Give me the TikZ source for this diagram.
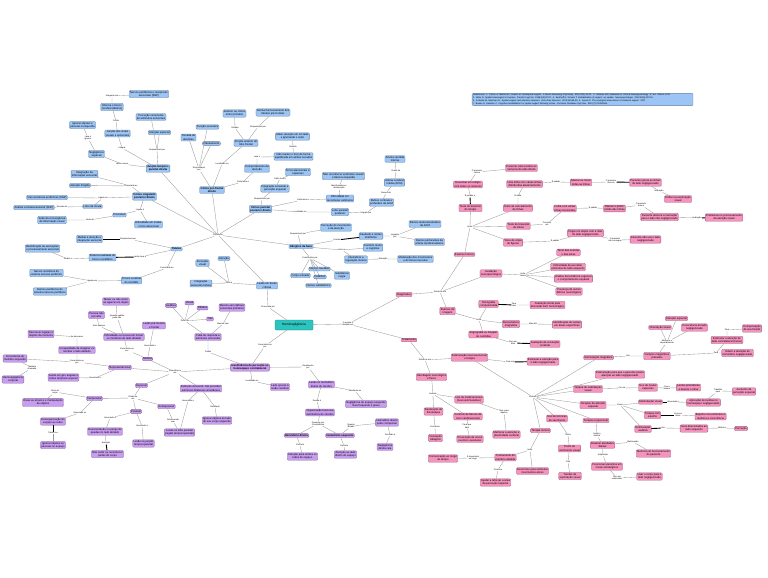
\documentclass[tikz,border=0pt]{standalone}
\usepackage{fontspec}
\setmainfont{Liberation Sans}
\usepackage{xcolor}
\definecolor{anat}{HTML}{9CC4F4}
\definecolor{diag}{HTML}{F592BD}
\definecolor{tipo}{HTML}{C89DF0}
\definecolor{core}{HTML}{2CC4BF}
\usepackage{tikz}

\begin{document}
\begin{tikzpicture}[x=1pt, y=-1pt,
  box/.style={draw=#1!65!black, fill=#1, rounded corners=1pt, line width=0.3pt,
    inner sep=0.9pt, align=center, font=\fontsize{2.7}{3.1}\selectfont},
  key/.style={box=#1, font=\fontsize{2.7}{3.1}\selectfont\bfseries},
  lbl/.style={fill=white, inner sep=0.3pt, align=center, font=\fontsize{2.1}{2.4}\selectfont},
  link/.style={draw=black!40, line width=0.35pt},
  arr/.style={draw=black, line width=0.9pt}
]
  \useasboundingbox (0,0) rectangle (768,578);

  % Referencias
  \node[box=anat, text width=219pt, align=left, font=\fontsize{2.2}{2.8}\selectfont] (refs) at (582.5,99.5)
    {Referências: 1. Parton A, Malhotra P, Husain M. Hemispatial neglect. J Neurol Neurosurg Psychiatry. 2004;75(1):13-21. 2. Heilman KM, Valenstein E. Clinical Neuropsychology. 5.ª ed. Oxford; 2011.\\
     3. Vallar G. Spatial hemineglect in humans. Trends Cogn Sci. 1998;2(3):87-97. 4. Kerkhoff G, Schenk T. Rehabilitation of neglect: an update. Neuropsychologia. 2012;50(6):1072-9.\\
     5. Corbetta M, Shulman GL. Spatial neglect and attention networks. Annu Rev Neurosci. 2011;34:569-99. 6. Azouvi P. The ecological assessment of unilateral neglect. 2017.\\
     7. Bowen A, Hazelton C. Cognitive rehabilitation for spatial neglect following stroke. Cochrane Database Syst Rev. 2013;(7):CD003586.};

  % Centro
  \node[box=core, minimum width=38pt, minimum height=10pt, font=\fontsize{3.2}{3.6}\selectfont] (hemi) at (294,325) {Heminegligência};
  \node[lbl] (lcausa) at (268,307) {Provocada por};
  \node[box=anat] (lesao) at (267,285.5) {Lesão em áreas\\críticas};
  \node[lbl] (lenv) at (218,235) {Envolvem};

  % Areas cerebrais
  \node[key=anat] (jtp) at (158,168.5) {Junção temporo-\\parietal direita};
  \node[key=anat] (cpf) at (212,190) {Córtex pré-frontal\\direito};
  \node[key=anat] (cpp) at (260.5,209) {Córtex parietal\\posterior direito};
  \node[key=anat] (gbase) at (301,246.5) {Gânglios da base};
  \node[key=anat] (talamo) at (176.5,249) {Tálamo};
  \node[key=anat] (ccp) at (144.5,196.5) {Córtex cingulado\\posterior direito};

  % Juncao temporo-parietal
  \node[lbl] (ljtp1) at (157,150) {Responsável por};
  \node[box=anat] (atesp) at (159.5,132.5) {Atenção espacial};
  \node[box=anat] (percons) at (151,117) {Perceção consciente\\de estímulos sensoriais};
  \node[lbl] (ljtp2) at (122,148) {Integra};
  \node[box=anat] (juncao) at (117.5,133.5) {Junção dos sinais\\visuais e sensoriais};
  \node[lbl] (lfusao) at (116,121) {Fusão};
  \node[box=anat] (informa) at (112,107) {Informa o tronco\\cerebral (tálamo)};
  \node[lbl] (linteg) at (112,96) {Integrado em};
  \node[box=anat] (nervos) at (149,94) {Nervos periféricos e receptores\\sensoriais (SNP)};
  \node[lbl] (ljtp3) at (122,164) {Lesão causa};
  \node[box=anat] (negesp) at (96.5,154) {Negligência\\espacial};
  \node[lbl] (lneg) at (88,138) {Leva a\\ignorar};
  \node[box=anat] (ignorar) at (82.5,125) {Ignorar objetos e\\pessoas à esquerda};

  % Cingulado
  \node[lbl] (lccp1) at (131,186) {Conectado ao};
  \node[box=anat] (infsens) at (84.5,174) {Integração da\\informação sensorial};
  \node[box=anat] (atdir) at (80,185.5) {Atenção dirigida};
  \node[lbl] (lccp2) at (103,198) {Ligado ao};
  \node[box=anat] (insula) at (92.5,206.5) {Lobo da ínsula};
  \node[box=anat] (vias) at (47,197.5) {Vias sensitivas periféricas (SNP)};
  \node[lbl] (lins) at (62,207) {Recebe da};
  \node[box=anat] (analise) at (34,207.5) {Análise somatossensorial (SNP)};
  \node[lbl] (lccp3) at (140,210) {Ligado à};
  \node[box=anat] (precuneo) at (119.5,215) {Precúneo};
  \node[lbl] (lprec) at (90,220) {Sede da};
  \node[box=anat] (sede) at (52,220) {Sede da convergência\\de informação visual};
  \node[box=anat] (dificfoco) at (148.5,224.5) {Dificuldade em mudar\\o foco atencional};

  % Pre-frontal
  \node[lbl] (lcpf1) at (199,169) {Responsável\\por};
  \node[box=anat] (decisao) at (188.5,137.5) {Tomada de\\decisões};
  \node[box=anat] (funcexec) at (207.5,127) {Função executiva};
  \node[box=anat] (planea) at (211.5,143.5) {Planeamento};
  \node[lbl] (lcpf2) at (222,164) {Localizado na};
  \node[box=anat] (porcao) at (246,143) {Porção anterior do\\lobo frontal};
  \node[lbl] (lporc1) at (235,128) {Situada};
  \node[box=anat] (anterior) at (234.5,113.5) {Anterior ao córtex\\motor primário};
  \node[lbl] (lporc2) at (258,127) {Responsável por};
  \node[box=anat] (normal) at (273,112.5) {Normal funcionamento dos\\lóbulos pré-frontais};
  \node[lbl] (lcpf3) at (243,182) {Pode levar a};
  \node[box=anat] (comport) at (257,168.5) {Comportamento da\\atenção};
  \node[lbl] (lcomp) at (257,157) {Leva a};
  \node[box=anat] (naomant) at (293.5,156.5) {Não manter o foco de forma\\equilibrada em ambos os lados};
  \node[lbl] (lnao) at (293,147) {Resulta};
  \node[box=anat] (maior) at (292.5,136.5) {Maior atenção em um lado\\e ignorando o outro};

  % Parietal posterior
  \node[lbl] (lcpp1) at (262,199) {Responsável por};
  \node[box=anat] (intsens) at (275,188.5) {Integração sensorial e\\perceção espacial};
  \node[lbl] (lint) at (280,179) {Falha leva a};
  \node[box=anat] (erros) at (298,172) {Erros atencionais e\\espaciais};
  \node[lbl] (lcpp2) at (303,200) {Pode levar a};
  \node[box=anat] (dificrec) at (340,198.5) {Dificuldade em\\reconhecer estímulos};
  \node[lbl] (ldif) at (339,187) {Manifestada por\\desatenção};
  \node[box=anat] (naorec) at (343.5,176) {Não reconhecer estímulos visuais\\e táteis à esquerda};
  \node[lbl] (lcpp3) at (300,212) {Localizado no};
  \node[box=anat] (lobopar) at (340,212) {Lobo parietal\\posterior};
  \node[lbl] (llp) at (366,213) {Irrigado por};
  \node[box=anat] (ramos) at (381.5,202.5) {Ramos corticais e\\profundos da ACM};
  \node[lbl] (lram) at (386,193) {Ramos da};
  \node[box=anat] (acm) at (394.5,182.5) {Artéria cerebral\\média (ACM)};
  \node[lbl] (lacm) at (396,171) {Ramo da};
  \node[box=anat] (carot) at (395,159) {Artéria carótida\\interna};

  % Ganglios da base
  \node[lbl] (lgb1) at (298,234) {Responsável por};
  \node[box=anat] (percmov) at (336,227.5) {Perceção do movimento\\e da atenção};
  \node[lbl] (lgb2) at (337,240) {Contém};
  \node[box=anat] (caudado) at (371,236) {Caudado e núcleo\\lentiforme};
  \node[lbl] (lirr) at (395,236) {Irrigados\\por};
  \node[box=anat] (lentic) at (425,224) {Ramos lenticuloestriados\\da ACM};
  \node[box=anat] (perfur) at (429.5,242) {Ramos perfurantes da\\artéria cerebral anterior};
  \node[lbl] (lgb4) at (342,250) {Atua no};
  \node[box=anat] (motor) at (373,247.5) {Controlo motor\\e cognitivo};
  \node[box=anat] (intens) at (356,259.5) {Intensificar a\\regulação motora};
  \node[lbl] (lint2) at (383,259) {Alteração};
  \node[box=anat] (modul) at (415.5,259) {Modulação dos movimentos\\e do tónus muscular};
  \node[lbl] (lgb5) at (310,258) {Constituídos por};
  \node[box=anat] (ncaud) at (319.5,269) {Núcleo caudado};
  \node[box=anat] (cestr) at (300.5,275.5) {Corpo estriado};
  \node[box=anat] (putamen) at (320,277) {Putâmen};
  \node[box=anat] (snegra) at (342,275.5) {Substância\\negra};
  \node[box=anat] (nsubt) at (318.5,285.5) {Núcleo subtalâmico};

  % Talamo
  \node[lbl] (ltal1) at (128,239) {Responsável por};
  \node[box=anat] (mediar) at (89.5,239) {Mediar a atenção e\\integração sensorial};
  \node[lbl] (ltal2) at (140,257) {Lesão leva a};
  \node[box=anat] (disfunc) at (102.5,257.5) {Disfuncionalidade do\\tronco encefálico};
  \node[lbl] (ldis) at (68,259) {Reduz a};
  \node[box=anat] (identif) at (42.5,248.5) {Identificação de sensações\\e processamento sensorial};
  \node[lbl] (ltal3) at (167,268) {Conectado ao};
  \node[box=anat] (tronco) at (131.5,280.5) {Tronco cerebral\\do encéfalo};
  \node[lbl] (ltron) at (92,281) {Ligado aos};
  \node[box=anat] (nsens) at (46.5,273) {Nervos sensitivos do\\sistema nervoso periférico};
  \node[box=anat] (nperif) at (50,291.5) {Ramos periféricos do\\sistema nervoso periférico};

  % Lesao: funcoes
  \node[lbl] (lles) at (229,283) {Afeta a};
  \node[box=anat] (percvis) at (202.5,263) {Perceção\\visual};
  \node[box=anat] (atencao) at (224,258.5) {Atenção};
  \node[box=anat] (intsm) at (201,283.5) {Integração\\sensorial motora};

  % Diagnostico
  \node[lbl] (lexame) at (348,324) {O exame é\\dividido em};
  \node[box=diag] (diag) at (404,294.5) {Diagnóstico};
  \node[box=diag] (trat) at (409,340) {Tratamento};
  \node[lbl] (ldiag) at (440,292) {Divide-se em};
  \node[box=diag] (exfis) at (464.5,254.5) {Exames Físicos};
  \node[box=diag] (avneuro) at (491,273.5) {Avaliação\\neuropsicológica};
  \node[box=diag] (eximg) at (447.5,311) {Exames de\\imagem};

  % Exames fisicos
  \node[lbl] (lexf) at (470,227) {Inclui};
  \node[box=diag] (relogio) at (470.5,208) {Teste do desenho\\do relógio};
  \node[box=diag] (cancel) at (518,208) {Teste de cancelamento\\de linhas};
  \node[box=diag] (bissec) at (518.5,226) {Teste de bisseção\\de linhas};
  \node[box=diag] (copia) at (513,242.5) {Teste de cópia\\de figuras};
  \node[lbl] (lrel) at (470,196) {É pedido a};
  \node[box=diag] (desenhar) at (468,184.5) {Desenhar um relógio\\com todos os números};
  \node[lbl] (ldes) at (477,172) {O paciente\\coloca};
  \node[box=diag] (coloca) at (521.5,168) {Paciente coloca todos os\\números do lado direito};
  \node[lbl] (lcan) at (518,196) {É dada};
  \node[box=diag] (folha) at (524.5,184) {Uma folha com várias linhas\\distribuídas aleatoriamente};
  \node[lbl] (lfol) at (556,182) {É pedido};
  \node[box=diag] (marcar) at (581,182.5) {Marcar ou riscar\\todas as linhas};
  \node[lbl] (lmar) at (611,182) {O paciente\\risca só};
  \node[box=diag] (ignora) at (645.5,182.5) {Paciente ignora as linhas\\do lado negligenciado};
  \node[lbl] (lign) at (659,191) {Indicação};
  \node[box=diag] (defice) at (678,199) {Défice na exploração\\visual};
  \node[lbl] (lbis) at (547,224) {Consiste\\em};
  \node[box=diag] (linhas) at (565,208.5) {Folha com várias\\linhas horizontais};
  \node[lbl] (llin) at (593,208) {É pedido};
  \node[box=diag] (ptmedio) at (614.5,208.5) {Marcar o ponto\\médio das linhas};
  \node[lbl] (lpt) at (641,205) {O paciente\\marca};
  \node[box=diag] (desloca) at (659.5,217) {Paciente desloca a marcação\\para o lado não negligenciado};
  \node[lbl] (ldesl) at (697,218) {Indicação};
  \node[box=diag] (probl) at (724,217.5) {Problemas no processamento\\da atenção visual};
  \node[lbl] (lcop) at (555,241) {É pedido};
  \node[box=diag] (pegar) at (585.5,233) {Pegar um objeto com a mão\\do lado negligenciado};
  \node[lbl] (lpeg) at (615,240) {O paciente\\não consegue};
  \node[box=diag] (naousa) at (645.5,239.5) {Paciente não usa o lado\\negligenciado};

  % Avaliacao neuropsicologica
  \node[lbl] (lneuro) at (523,275) {Inclui\\testes};
  \node[box=diag] (tn1) at (568.5,252.5) {Teste das estrelas\\e das letras};
  \node[box=diag] (tn2) at (568,267) {Dificuldade de perceber\\estímulos do lado esquerdo};
  \node[box=diag] (tn3) at (573.5,278.5) {Análise da tendência a ignorar\\o comportamento espacial};
  \node[box=diag] (tn4) at (569,291.5) {Presença de outros\\défices neurológicos};

  % Exames de imagem
  \node[lbl] (limg) at (479,320) {Inclui};
  \node[box=diag] (tc) at (488.5,304) {Tomografia\\computorizada};
  \node[lbl] (ltc) at (514,305) {Para\\fazer};
  \node[box=diag] (avinic) at (547.5,305) {Avaliação inicial para\\descartar AVC hemorrágico};
  \node[box=diag] (rm) at (511,324) {Ressonância\\magnética};
  \node[lbl] (lrm) at (533,324) {Mais útil};
  \node[box=diag] (ident) at (567,324.5) {Identificação de lesões\\em áreas específicas};
  \node[box=diag] (angio) at (483.5,334.5) {Angiografia ou Doppler\\de carótidas};
  \node[lbl] (lang) at (513,343) {Para ser\\feita};
  \node[box=diag] (avcirc) at (545,344) {Avaliação da circulação\\cerebral};

  % Tratamento
  \node[lbl] (ltrat) at (425,360) {Divide-se em};
  \node[box=diag] (estneuro) at (469.5,357.5) {Estimulação neurossensorial\\e terapia};
  \node[box=diag] (aborda) at (431.5,377) {Abordagem neurológica\\e física};
  \node[lbl] (lest) at (510,362) {Com uso};
  \node[box=diag] (estatenc) at (543,361.5) {Estimular a atenção para\\o lado negligenciado};
  \node[lbl] (lhub) at (533,397) {Incluem};

  % Estimulacao magnetica
  \node[box=diag] (estmag) at (598.5,357.5) {Estimulação magnética};
  \node[lbl] (lmag) at (628,356) {Usa};
  \node[box=diag] (campos) at (657,356) {Campos magnéticos\\pulsados};
  \node[lbl] (lcamp) at (667,342) {Melhorar a\\capacidade de};
  \node[box=diag] (orient) at (660,327.5) {Orientação visual};
  \node[box=diag] (atesp2) at (676.5,318.5) {Atenção espacial};
  \node[box=diag] (consc) at (694.5,327.5) {Consciência do lado\\negligenciado};
  \node[lbl] (lind) at (716,353) {Para};
  \node[box=diag] (induzir) at (737.5,353) {Induzir a ativação do\\hemisfério negligenciado};
  \node[box=diag] (estim2) at (727,340) {Estimular a atenção do\\lado contralateral (treino)};
  \node[lbl] (lest2) at (727,330) {Para};
  \node[box=diag] (compens) at (752,328.5) {Compensação\\de sua função};

  % Terapias
  \node[box=diag] (estpac) at (620,374.5) {Estimulação para que o paciente preste\\atenção ao lado negligenciado};
  \node[box=diag] (terviz) at (588,389) {Terapia de reabilitação\\visual};
  \node[lbl] (lviz) at (622,388) {Por via};
  \node[box=diag] (oculos) at (648,387.5) {Uso de óculos\\especiais};
  \node[lbl] (locu) at (667,388) {Com o\\prisma};
  \node[box=diag] (lente) at (688.5,387.5) {Lentes prismáticas\\a desviar o olhar};
  \node[box=diag] (teratenc) at (593,405) {Terapias de atenção\\espacial};
  \node[lbl] (latenc) at (620,405) {Como};
  \node[box=diag] (estvis) at (650.5,402) {Estimulação visual};
  \node[lbl] (lvis) at (673,402) {Associada a};
  \node[box=diag] (aplic) at (703.5,402.5) {Aplicação de tarefas no\\hemiespaço negligenciado};
  \node[lbl] (lapl) at (718,391) {Trabalha\\para};
  \node[box=diag] (aumento) at (744,391.5) {Aumento da\\perceção espacial};
  \node[box=diag] (espelho) at (652.5,415) {Terapia com\\espelho};
  \node[lbl] (lesp) at (678,415) {Procura\\ativar};
  \node[box=diag] (espest) at (710.5,416.5) {Espelho cria estímulos e\\melhora a consciência};
  \node[box=diag] (estaud) at (643,429) {Estimulação\\auditiva};
  \node[lbl] (laud) at (663,428) {Usa};
  \node[box=diag] (sons) at (694,428.5) {Sons direcionados ao\\lado esquerdo};
  \node[lbl] (lsons) at (722,428) {Melhora};
  \node[box=diag] (percecao) at (741,428.5) {Perceção};
  \node[box=diag] (terocup) at (596,420.5) {Terapia ocupacional};
  \node[lbl] (locup) at (597,435) {Ajuda a\\realizar};
  \node[box=diag] (ativ) at (602.5,445) {Realizar atividades\\diárias};
  \node[lbl] (lativ) at (633,442) {Melhorando};
  \node[box=diag] (melhoria) at (653.5,453.5) {Melhoria do funcionamento\\do paciente};
  \node[lbl] (ladapt) at (603,455) {Adaptação};
  \node[box=diag] (posic) at (607,466.5) {Posicionar utensílios em\\locais estratégicos};
  \node[lbl] (lpos) at (617,478) {Para ser\\estimulado};
  \node[box=diag] (usar) at (649.5,476.5) {Usar o corpo para o\\lado negligenciado};
  \node[box=diag] (pistas) at (557,418.5) {Uso de técnicas\\de varrimento};
  \node[lbl] (lpis) at (568,435) {Treino};
  \node[box=diag] (treinoviz) at (569.5,448.5) {Treino de\\varrimento visual};
  \node[lbl] (ltv) at (568,462) {Com};
  \node[box=diag] (tarefas) at (570,476) {Tarefas de\\exploração visual};
  \node[box=diag] (termot) at (540.5,430.5) {Terapia motora};
  \node[lbl] (lmot) at (530,450) {Inclui};
  \node[box=diag] (exerc) at (532.5,471) {Exercícios para estimular\\movimentos ativos};
  \node[box=diag] (treinom) at (505.5,457.5) {Treinamento do\\membro afetado};
  \node[lbl] (ltm) at (473,458) {É importante\\ao longo};
  \node[box=diag] (comunic) at (443,458.5) {Comunicação ao longo\\do tempo};
  \node[lbl] (ltm2) at (498,470) {Promove};
  \node[box=diag] (ajudar) at (495.5,482.5) {Ajudar a reforçar a área\\da perceção espacial};

  % Abordagem neurologica
  \node[lbl] (lab) at (433,394) {Incluem};
  \node[box=diag] (fisio) at (433.5,411.5) {Realização de\\fisioterapia};
  \node[lbl] (lfis) at (435,427) {Com base};
  \node[box=diag] (cessar) at (435.5,438) {Cessação\\tabágica};
  \node[box=diag] (medic) at (469,399.5) {Uso de medicamentos\\(neuroestimulantes)};
  \node[lbl] (lmed) at (504,412) {Têm como\\objetivo};
  \node[box=diag] (plast) at (506.5,434.5) {Melhorar a atenção e\\plasticidade cerebral};
  \node[box=diag] (contr) at (468,416.5) {Controlo de fatores de\\risco cardiovascular};
  \node[lbl] (lcon) at (467,426.5) {Para que\\haja};
  \node[box=diag] (prev) at (470,439) {Prevenção de novos\\eventos vasculares};

  % Caracteristicas
  \node[lbl] (lcarac) at (265,346) {Caracteriza-se\\por};
  \node[key=tipo] (insuf) at (250,367.5) {Insuficiência de perceção no\\hemiespaço contralateral};
  \node[lbl] (lins1) at (252,381) {Localizado no};
  \node[box=tipo] (ladoop) at (280,387) {Lado oposto à\\lesão cerebral};
  \node[lbl] (lins2) at (308,367) {Geralmente\\por};
  \node[box=tipo] (lesdir) at (321.5,384.5) {Lesão no hemisfério\\direito do cérebro};
  \node[lbl] (lld1) at (317,401) {Devido à};
  \node[box=tipo] (organ) at (320,412.5) {Organização funcional\\assimétrica do cérebro};
  \node[lbl] (lorg) at (318,423.5) {Presente nos\\2 hemisférios};
  \node[key=tipo] (hdir) at (296.5,435.5) {Hemisfério direito};
  \node[key=tipo] (hesq) at (340,435.5) {Hemisfério esquerdo};
  \node[lbl] (lhd) at (300,445) {Controla};
  \node[box=tipo] (ambos) at (302.5,456.5) {Atenção para ambos os\\lados do espaço};
  \node[lbl] (lhe) at (344,446) {Controla};
  \node[box=tipo] (direito) at (345.5,454.5) {Atenção ao lado\\direito do espaço};
  \node[lbl] (lld2) at (355,391) {Manifesta-se};
  \node[box=tipo] (negl) at (366,404) {Negligência do espaço esquerdo\\mais frequente e grave};
  \node[lbl] (lhe2) at (351,426) {Quando\\afetado};
  \node[box=tipo] (compensa) at (387,422.5) {Hemisfério direito\\pode compensar};
  \node[lbl] (lcomp2) at (390,435) {Tornando a};
  \node[box=tipo] (negdir) at (385,447) {Negligência\\direita rara};

  % Tipos
  \node[lbl] (ltipos) at (175,372) {Classifica-se\\em};
  \node[box=tipo] (motora) at (147.5,359) {Motora};
  \node[box=tipo] (repres) at (120,367.5) {Representacional};
  \node[box=tipo] (espacial) at (141.5,385.5) {Espacial};
  \node[box=tipo] (sensor) at (201,388.5) {Extinção sensorial: não perceber\\estímulos bilaterais simultâneos};
  \node[lbl] (lsen1) at (215,407) {Resultado};
  \node[box=tipo] (ignesq) at (217,420.5) {Ignorar objetos do lado\\do seu corpo esquerdo};
  \node[lbl] (lsen2) at (188,401) {Associada a};
  \node[box=tipo] (funcao) at (179.5,432.5) {Lesão no lobo parietal\\(região temporoparietal)};

  % Espacial
  \node[lbl] (lespc) at (133,398) {Divide-se\\em};
  \node[box=tipo] (perip) at (94.5,398.5) {Peripessoal};
  \node[box=tipo] (extrap) at (166.5,406.5) {Extrapessoal};
  \node[box=tipo] (pessoal) at (136,411.5) {Pessoal};
  \node[lbl] (lext) at (173,421) {Relacionada\\com};
  \node[lbl] (lper1) at (55,392) {Perto do\\corpo};
  \node[box=tipo] (areas) at (43,402.5) {Áreas ao alcance e manipulação\\de objetos};
  \node[lbl] (lper2) at (80,413) {Associado ao};
  \node[box=tipo] (desorg) at (53,421.5) {Desorganização do\\espaço ao redor};
  \node[lbl] (ldes2) at (53,433) {Traduz-se};
  \node[box=tipo] (ignesp) at (53,445) {Ignorar objetos ou\\pessoas no espaço};
  \node[lbl] (lpes1) at (110,418) {Associado a};
  \node[box=tipo] (desor) at (105,431.5) {Desorientação ou perigo de\\quedas no lado afetado};
  \node[lbl] (lpes2) at (106,443) {Exemplo};
  \node[box=tipo] (naosent) at (107.5,454) {Não sentir ou reconhecer\\partes do corpo};
  \node[lbl] (lpes3) at (142,426) {Associado a};
  \node[box=tipo] (lesjtp) at (143.5,443.5) {Lesão na junção\\temporoparietal};

  % Representacional
  \node[lbl] (lrep1) at (77,362) {Caracteriza-se\\por};
  \node[box=tipo] (incap) at (77,350) {Incapacidade de imaginar ou\\lembrar o lado afetado};
  \node[lbl] (linc) at (77,337) {Ao descrever};
  \node[box=tipo] (descr) at (41,334) {Descrever lugares e\\objetos da memória};
  \node[lbl] (lrep2) at (95,378) {Associado a};
  \node[box=tipo] (lesgiro) at (63.5,377.5) {Lesão em giro angular e\\córtex temporal superior};
  \node[box=tipo] (consc2) at (15,358.5) {Consciência do\\membro esquerdo};
  \node[lbl] (lcons) at (32,368) {Também\\chamada};
  \node[box=tipo] (somato) at (13,379.5) {Heminegligência\\corporal};

  % Motora
  \node[lbl] (lmot1) at (127,350) {Caracteriza-se\\por};
  \node[box=tipo] (recusa) at (124,337) {Dificuldade ou recusa em mover\\os membros do lado afetado};
  \node[lbl] (lmot2) at (150,346) {Associada a};
  \node[box=tipo] (lesprem) at (154,325.5) {Lesão pré-motora\\e frontal};
  \node[lbl] (lrec1) at (117,317) {Quando pedido\\pode não};
  \node[box=tipo] (mexer) at (116,301.5) {Mexer ou não sentir\\ao agarrar um objeto};
  \node[lbl] (lrec2) at (99,326) {Nem sempre};
  \node[box=tipo] (pessoa) at (96.5,315) {Pessoa não\\percebe};

  % Sensorial
  \node[box=tipo] (falta) at (208,337) {Falta de resposta a\\estímulos sensoriais};
  \node[lbl] (lfal1) at (185,321) {Pode ser};
  \node[box=tipo] (audit) at (171,305.5) {Auditiva};
  \node[box=tipo] (visual) at (189.5,303) {Visual};
  \node[box=tipo] (olfat) at (202.5,308) {Olfativa};
  \node[box=tipo] (tatil) at (210,319) {Tátil};
  \node[lbl] (lfal2) at (223,324) {Mesmo sem};
  \node[box=tipo] (mesmo) at (232,307.5) {Mesmo sem défices\\sensoriais primários};
  \node[lbl] (lfal3) at (208,352) {Traduz};

  % Ligacoes: centro e areas
  \draw[link] (hemi) -- (lcausa) -- (lesao) -- (lenv);
  \foreach \n in {jtp,cpf,cpp,gbase,talamo,ccp} \draw[link] (lenv) -- (\n);
  \draw[link] (jtp) -- (ljtp1) (ljtp1) -- (atesp) (ljtp1) -- (percons);
  \draw[link] (jtp) -- (ljtp2) -- (juncao) -- (lfusao) -- (informa) -- (linteg) -- (nervos);
  \draw[link] (jtp) -- (ljtp3) -- (negesp) -- (lneg) -- (ignorar);
  \draw[link] (ccp) -- (lccp1) (lccp1) -- (infsens) (lccp1) -- (atdir);
  \draw[link] (ccp) -- (lccp2) -- (insula) -- (lins) -- (analise) (lccp2) -- (vias);
  \draw[link] (ccp) -- (lccp3) -- (precuneo) -- (lprec) -- (sede) (lccp3) -- (dificfoco);
  \draw[link] (cpf) -- (lcpf1) (lcpf1) -- (decisao) (lcpf1) -- (funcexec) (lcpf1) -- (planea);
  \draw[link] (cpf) -- (lcpf2) -- (porcao) -- (lporc1) -- (anterior) (porcao) -- (lporc2) -- (normal);
  \draw[link] (cpf) -- (lcpf3) -- (comport) -- (lcomp) -- (naomant) -- (lnao) -- (maior);
  \draw[link] (cpp) -- (lcpp1) -- (intsens) -- (lint) -- (erros);
  \draw[link] (cpp) -- (lcpp2) -- (dificrec) -- (ldif) -- (naorec);
  \draw[link] (cpp) -- (lcpp3) -- (lobopar) -- (llp) -- (ramos) -- (lram) -- (acm) -- (lacm) -- (carot);
  \draw[link] (gbase) -- (lgb1) -- (percmov);
  \draw[link] (gbase) -- (lgb2) (caudado) -- (lirr) (lirr) -- (lentic) (lirr) -- (perfur);
  \draw[arr] (lgb2) -- (caudado);
  \draw[link] (gbase) -- (lgb4) (lgb4) -- (motor) (lgb4) -- (intens) -- (lint2) -- (modul);
  \draw[link] (gbase) -- (lgb5);
  \foreach \n in {ncaud,cestr,putamen,snegra,nsubt} \draw[link] (lgb5) -- (\n);
  \draw[link] (talamo) -- (ltal1) (talamo) -- (ltal2) (disfunc) -- (ldis) -- (identif);
  \draw[arr] (ltal1) -- (mediar);
  \draw[arr] (ltal2) -- (disfunc);
  \draw[link] (talamo) -- (ltal3) -- (tronco) -- (ltron) (ltron) -- (nsens) (ltron) -- (nperif);
  \draw[link] (lesao) -- (lles) (lles) -- (percvis) (lles) -- (atencao) (lles) -- (intsm);

  % Ligacoes: diagnostico
  \draw[link] (hemi) -- (lexame) (lexame) -- (diag) (lexame) -- (trat);
  \draw[link] (diag) -- (ldiag) (ldiag) -- (exfis) (ldiag) -- (avneuro) (ldiag) -- (eximg);
  \draw[link] (exfis) -- (lexf);
  \foreach \n in {relogio,cancel,bissec,copia} \draw[link] (lexf) -- (\n);
  \draw[arr] (relogio) -- (lrel);
  \draw[link] (lrel) -- (desenhar) -- (ldes) -- (coloca);
  \draw[link] (cancel) -- (lcan) -- (folha) -- (lfol) -- (marcar) -- (lmar);
  \draw[arr] (lmar) -- (ignora);
  \draw[link] (ignora) -- (lign) -- (defice);
  \draw[link] (bissec) -- (lbis) -- (linhas) -- (llin) -- (ptmedio) -- (lpt) -- (desloca) -- (ldesl);
  \draw[arr] (ldesl) -- (probl);
  \draw[link] (copia) -- (lcop) -- (pegar) -- (lpeg) -- (naousa);
  \draw[link] (avneuro) -- (lneuro);
  \foreach \n in {tn1,tn2,tn3,tn4} \draw[link] (lneuro) -- (\n);
  \draw[link] (eximg) -- (limg) (limg) -- (tc) (limg) -- (rm) (limg) -- (angio);
  \draw[arr] (tc) -- (ltc);
  \draw[link] (ltc) -- (avinic) (rm) -- (lrm) -- (ident) (angio) -- (lang);
  \draw[arr] (lang) -- (avcirc);

  % Ligacoes: tratamento
  \draw[link] (trat) -- (ltrat) (ltrat) -- (estneuro) (ltrat) -- (aborda);
  \draw[link] (estneuro) -- (lest);
  \draw[arr] (lest) -- (estatenc);
  \draw[link] (estneuro) -- (lhub);
  \foreach \n in {estmag,estpac,terviz,teratenc,terocup,pistas,termot} \draw[link] (lhub) -- (\n);
  \draw[link] (estmag) -- (lmag) -- (campos) -- (lcamp) (lcamp) -- (orient) (lcamp) -- (atesp2) (lcamp) -- (consc);
  \draw[link] (campos) -- (lind) -- (induzir) (lind) -- (estim2) -- (lest2) -- (compens);
  \draw[link] (terviz) -- (lviz) -- (oculos) -- (locu) -- (lente);
  \draw[link] (teratenc) -- (latenc) (latenc) -- (estvis) (latenc) -- (espelho) (latenc) -- (estaud);
  \draw[arr] (estvis) -- (lvis);
  \draw[link] (lvis) -- (aplic) -- (lapl) -- (aumento);
  \draw[arr] (espelho) -- (lesp);
  \draw[link] (lesp) -- (espest);
  \draw[arr] (estaud) -- (laud);
  \draw[link] (laud) -- (sons) -- (lsons) -- (percecao);
  \draw[link] (terocup) -- (locup) -- (ativ) -- (lativ) -- (melhoria) (ativ) -- (ladapt) -- (posic) -- (lpos) -- (usar);
  \draw[link] (pistas) -- (lpis) -- (treinoviz) -- (ltv) -- (tarefas);
  \draw[link] (termot) -- (lmot) (lmot) -- (exerc) (lmot) -- (treinom) -- (ltm) -- (comunic) (treinom) -- (ltm2) -- (ajudar);
  \draw[link] (aborda) -- (lab) (lab) -- (fisio) -- (lfis) -- (cessar) (lab) -- (medic) -- (lmed) -- (plast) (lab) -- (contr) -- (lcon) -- (prev);

  % Ligacoes: caracteristicas e tipos
  \draw[link] (hemi) -- (lcarac) -- (insuf) -- (lins1) -- (ladoop);
  \draw[link] (insuf) -- (lins2) -- (lesdir) -- (lld1) -- (organ) -- (lorg) (lorg) -- (hdir) (lorg) -- (hesq);
  \draw[link] (hdir) -- (lhd) -- (ambos) (hesq) -- (lhe) -- (direito);
  \draw[link] (lesdir) -- (lld2) -- (negl) (hesq) -- (lhe2) -- (compensa) -- (lcomp2) -- (negdir);
  \draw[link] (insuf) -- (ltipos);
  \foreach \n in {motora,repres,espacial,sensor} \draw[link] (ltipos) -- (\n);
  \draw[link] (sensor) -- (lsen1) -- (ignesq) (sensor) -- (lsen2) -- (funcao);
  \draw[link] (espacial) -- (lespc) (lespc) -- (perip) (lespc) -- (extrap) (lespc) -- (pessoal);
  \draw[link] (extrap) -- (lext) -- (funcao);
  \draw[link] (perip) -- (lper1) -- (areas) (perip) -- (lper2) -- (desorg);
  \draw[arr] (desorg) -- (ldes2);
  \draw[link] (ldes2) -- (ignesp);
  \draw[link] (pessoal) -- (lpes1) -- (desor) -- (lpes2);
  \draw[arr] (lpes2) -- (naosent);
  \draw[link] (pessoal) -- (lpes3) -- (lesjtp);
  \draw[link] (repres) -- (lrep1) -- (incap) -- (linc) -- (descr) (lrep1) -- (consc2) -- (lcons) -- (somato);
  \draw[link] (repres) -- (lrep2) -- (lesgiro);
  \draw[link] (motora) -- (lmot1) -- (recusa) (motora) -- (lmot2) -- (lesprem);
  \draw[link] (recusa) -- (lrec1) -- (mexer) (recusa) -- (lrec2) -- (pessoa);
  \draw[link] (falta) -- (lfal1);
  \foreach \n in {audit,visual,olfat,tatil} \draw[link] (lfal1) -- (\n);
  \draw[link] (falta) -- (lfal2) -- (mesmo) (falta) -- (lfal3) -- (insuf);
\end{tikzpicture}
\end{document}
